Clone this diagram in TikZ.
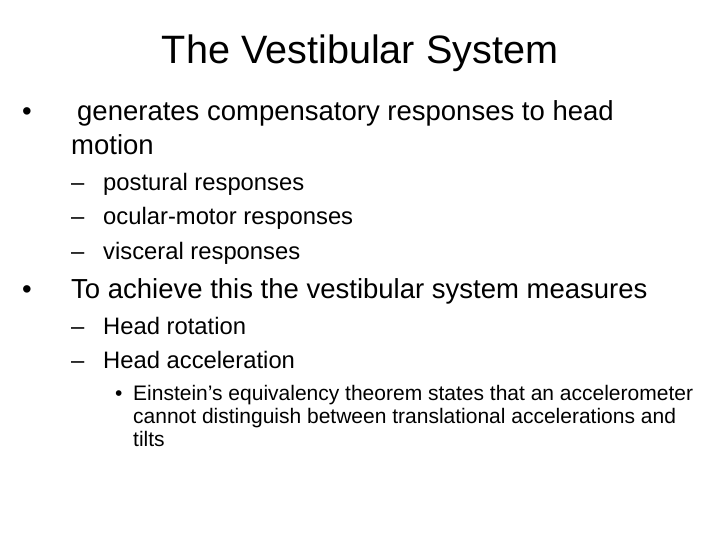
\documentclass[tikz,border=0pt]{standalone}
\usepackage{fontspec}
\setmainfont{Liberation Sans}
\begin{document}
\begin{tikzpicture}[x=1pt,y=-1pt,
  t/.style={anchor=base west,inner sep=0pt},
  l1/.style={t,font=\fontsize{27.5}{32}\selectfont},
  l2/.style={t,font=\fontsize{23.8}{28}\selectfont},
  l3/.style={t,font=\fontsize{21}{24}\selectfont}]
\useasboundingbox (0,0) rectangle (720,540);
\node[anchor=base,inner sep=0pt,font=\fontsize{39.6}{46}\selectfont] (title) at (360,64) {The Vestibular System};
\node[l1] (b1) at (22,121) {•};
\node[l1] (a1) at (77,121) {generates compensatory responses to head};
\node[l1] (a1b) at (71,155) {motion};
\node[l2] (d1) at (71,191) {–};
\node[l2] (s1) at (103,191) {postural responses};
\node[l2] (d2) at (71,225) {–};
\node[l2] (s2) at (103,225) {ocular-motor responses};
\node[l2] (d3) at (71,259) {–};
\node[l2] (s3) at (103,259) {visceral responses};
\node[l1] (b2) at (22,298) {•};
\node[l1] (a2) at (71,298) {To achieve this the vestibular system measures};
\node[l2] (d4) at (71,334) {–};
\node[l2] (s4) at (103,334) {Head rotation};
\node[l2] (d5) at (71,368) {–};
\node[l2] (s5) at (103,368) {Head acceleration};
\node[l3] (b3) at (115,400) {•};
\node[l3] (e1) at (133,400) {Einstein’s equivalency theorem states that an accelerometer};
\node[l3] (e2) at (133,423) {cannot distinguish between translational accelerations and};
\node[l3] (e3) at (133,446) {tilts};
\end{tikzpicture}
\end{document}
